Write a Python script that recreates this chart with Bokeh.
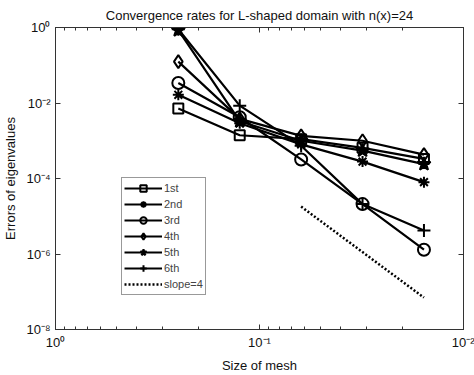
from bokeh.plotting import figure
from bokeh.models import (Range1d, FixedTicker, LogAxis, CustomJSTickFormatter,
                          Legend, LegendItem)
from bokeh.embed import file_html
from bokeh.resources import INLINE

mesh = [0.25, 0.125, 0.0625, 0.03125, 0.015625]
err_1st = [7.2e-3, 1.4e-3, 1.1e-3, 6.5e-4, 3.3e-4]
err_2nd = [1.65e-2, 2.9e-3, 8.0e-4, 2.8e-4, 8.0e-5]
err_3rd = [3.4e-2, 4.2e-3, 3.2e-4, 2.1e-5, 1.3e-6]
err_4th = [1.25e-1, 3.8e-3, 1.35e-3, 1.0e-3, 4.3e-4]
err_5th = [8.5e-1, 3.3e-3, 1.0e-3, 5.5e-4, 2.4e-4]
err_6th = [9.0e-1, 8.5e-3, 7.4e-4, 2.1e-5, 4.2e-6]
slope_x = [0.0625, 0.015625]
slope_y = [1.8e-5, 7.0e-8]

x_ticks = [1, 0.1, 0.01]
y_ticks = [1, 1e-2, 1e-4, 1e-6, 1e-8]
series_names = ["1st", "2nd", "3rd", "4th", "5th", "6th"]
slope_name = "slope=4"

FONT = "Liberation Sans"

p = figure(width=474, height=375, x_axis_type="log", y_axis_type="log",
           x_range=Range1d(1, 0.01), y_range=Range1d(1e-8, 1),
           output_backend="svg", toolbar_location=None,
           min_border_left=10, min_border_right=11, min_border_top=5,
           min_border_bottom=5)
p.title.text = "Convergence rates for L-shaped domain with n(x)=24"
p.title.align = "center"
p.title.text_font = FONT
p.title.text_font_size = "13px"
p.title.text_font_style = "normal"
p.title.text_color = "#111111"
p.xgrid.visible = False
p.ygrid.visible = False
p.outline_line_color = "#333333"
p.outline_line_width = 1

x_minor = [m * 10.0 ** e for e in (-1, -2) for m in range(2, 10)]

fmt = CustomJSTickFormatter(code="""
const sup = {'-':'\u207b','0':'\u2070','1':'\u00b9','2':'\u00b2','3':'\u00b3',
 '4':'\u2074','5':'\u2075','6':'\u2076','7':'\u2077','8':'\u2078','9':'\u2079'};
const e = Math.round(Math.log10(tick));
return '10' + String(e).split('').map(c => sup[c]).join('');
""")

def style_axis(ax, show_labels):
    ax.major_tick_in = 5
    ax.major_tick_out = 0
    ax.minor_tick_in = 3
    ax.minor_tick_out = 0
    ax.axis_line_color = "#333333"
    ax.major_tick_line_color = "#333333"
    ax.minor_tick_line_color = "#333333"
    ax.major_label_text_font = FONT
    ax.major_label_text_font_size = "13px"
    ax.major_label_text_color = "#111111" if show_labels else None
    ax.axis_label_text_font = FONT
    ax.axis_label_text_font_size = "13px"
    ax.axis_label_text_font_style = "normal"
    ax.axis_label_text_color = "#111111"
    ax.formatter = fmt

for ax in p.xaxis:
    ax.ticker = FixedTicker(ticks=x_ticks, minor_ticks=x_minor)
    style_axis(ax, True)
    ax.axis_label = "Size of mesh"
for ax in p.yaxis:
    ax.ticker = FixedTicker(ticks=y_ticks)
    style_axis(ax, True)
    ax.axis_label = "Errors of eigenvalues"

top = LogAxis(ticker=FixedTicker(ticks=x_ticks, minor_ticks=x_minor))
style_axis(top, False)
top.major_label_text_font_size = "0px"
top.major_label_standoff = 0
p.add_layout(top, "above")
right = LogAxis(ticker=FixedTicker(ticks=y_ticks))
style_axis(right, False)
right.major_label_text_font_size = "0px"
right.major_label_standoff = 0
p.add_layout(right, "right")

all_series = [err_1st, err_2nd, err_3rd, err_4th, err_5th, err_6th]
markers = ["square", "asterisk", "circle", "diamond", "star", "cross"]
sizes = [10, 11, 12, 13, 14, 13]
fills = [None, None, None, None, "black", None]

items = []
for name, ys, mk, sz, fc in zip(series_names, all_series, markers, sizes, fills):
    ln = p.line(mesh, ys, line_color="black", line_width=2.2)
    sc = p.scatter(mesh, ys, marker=mk, size=sz, line_color="black",
                   line_width=2, fill_color=fc)
    items.append(LegendItem(label=name, renderers=[ln, sc]))

sl = p.line(slope_x, slope_y, line_color="black", line_width=2.5, line_dash="2 2")
items.append(LegendItem(label=slope_name, renderers=[sl]))

legend = Legend(items=items, location=(66, 34))
legend.label_text_font = FONT
legend.label_text_font_size = "11px"
legend.label_height = 16
legend.glyph_height = 16
legend.glyph_width = 38
legend.spacing = 0
legend.padding = 2
legend.margin = 0
legend.label_standoff = 2
legend.border_line_color = "#333333"
legend.border_line_width = 1
legend.background_fill_alpha = 1
p.add_layout(legend)

open("out.html", "w").write(file_html(p, INLINE))
